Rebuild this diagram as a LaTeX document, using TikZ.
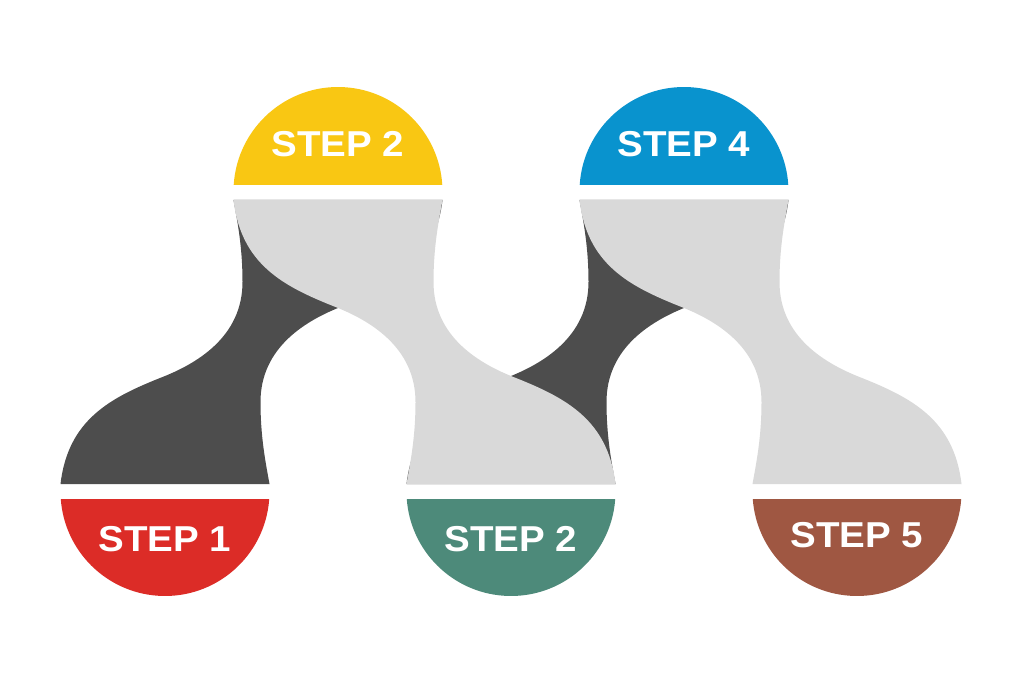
\documentclass[tikz,border=0pt]{standalone}
\usepackage{fontspec}
\newfontfamily\stepfont[FakeStretch=1.07]{Liberation Sans Bold}
\definecolor{cyellow}{RGB}{249,199,19}
\definecolor{cblue}{RGB}{9,147,206}
\definecolor{cred}{RGB}{220,44,39}
\definecolor{cgreen}{RGB}{77,138,122}
\definecolor{cbrown}{RGB}{159,87,66}
\definecolor{cdark}{RGB}{77,77,77}
\definecolor{clight}{RGB}{217,217,217}
\tikzset{
  steplabel/.style={text=white, font=\stepfont\fontsize{36}{36}\selectfont, inner sep=0pt, anchor=center},
}
\begin{document}
\begin{tikzpicture}[x=1pt, y=-1pt]
\useasboundingbox[fill=white] (0,0) rectangle (1023,684);
% ribbons: dark ones first, light ones on top
\foreach \sx/\col/\xs in {251.5/cdark/1, 597.5/cdark/1, 424.5/clight/-1, 770.5/clight/-1}{
  \begin{scope}[shift={(\sx,342)}, xscale=\xs]
    \fill[\col] (-191,142) .. controls (-183.5,78) and (-141.5,56) .. (-91.5,36)
      .. controls (-55,22) and (-9,-5) .. (-9,-60)
      .. controls (-9,-95) and (-14,-120) .. (-18,-142)
      -- (191,-142) .. controls (183.5,-78) and (141.5,-56) .. (91.5,-36)
      .. controls (55,-22) and (9,5) .. (9,60)
      .. controls (9,95) and (14,120) .. (18,142) -- cycle;
  \end{scope}
}
% top segments
\foreach \cx/\col in {338/cyellow, 684/cblue}{
  \fill[\col] (\cx-104.3,185) arc[start angle=183.57, end angle=356.43, radius=104.5] -- cycle;
}
% bottom segments
\foreach \cx/\col in {165/cred, 511/cgreen, 857/cbrown}{
  \fill[\col] (\cx+104.23,499) arc[start angle=4.12, end angle=175.88, radius=104.5] -- cycle;
}
\node[steplabel] (s2a) at (338,144.5) {STEP 2};
\node[steplabel] (s4) at (684,144.5) {STEP 4};
\node[steplabel] (s1) at (165,539) {STEP 1};
\node[steplabel] (s2b) at (511,539) {STEP 2};
\node[steplabel] (s5) at (857,535) {STEP 5};
\end{tikzpicture}
\end{document}
